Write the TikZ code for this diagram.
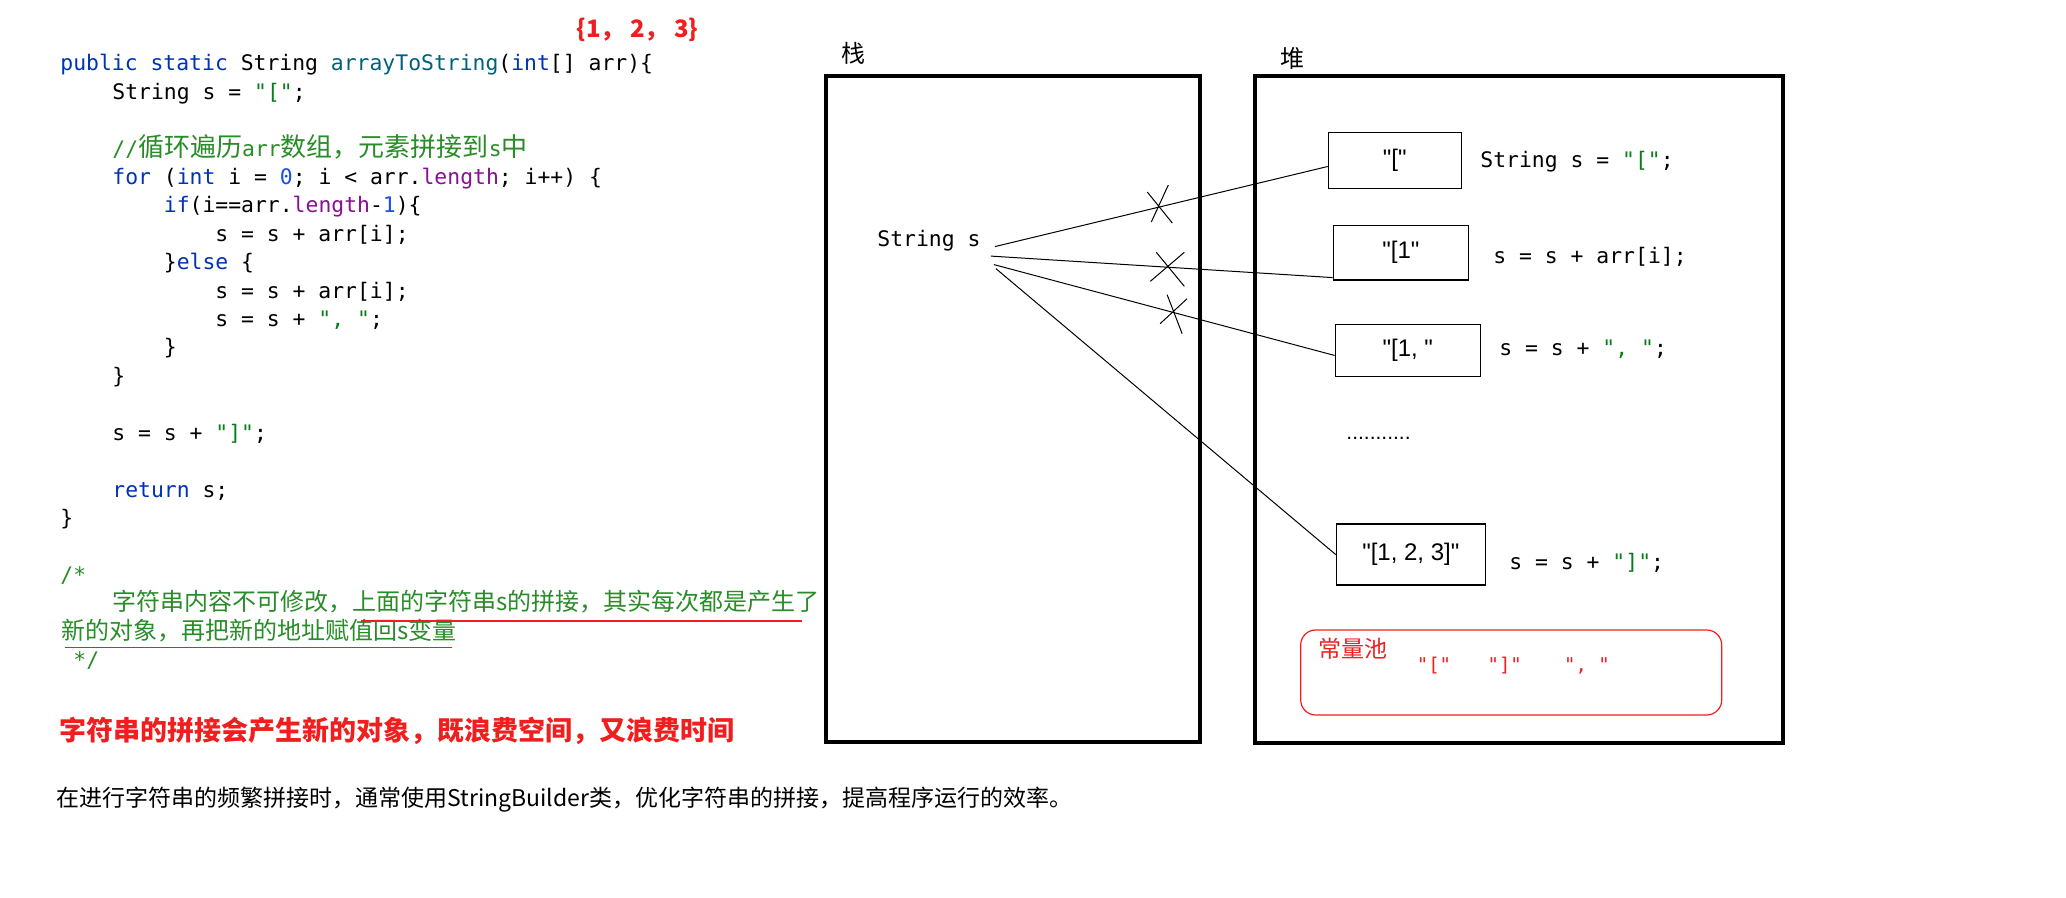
\documentclass[tikz,border=0pt]{standalone}
\usepackage{fontspec}
\usepackage{xcolor}
\usepackage{tikz}
\usetikzlibrary{positioning, calc}

\newfontfamily\cjk{Noto Sans CJK SC}
\newfontfamily\codefont{DejaVu Sans Mono}
\newfontfamily\boxfont{Liberation Sans}

\definecolor{kwblue}{RGB}{0,51,179}
\definecolor{numblue}{RGB}{23,80,235}
\definecolor{fieldpurple}{RGB}{135,16,148}
\definecolor{methodteal}{RGB}{0,98,122}
\definecolor{strgreen}{RGB}{6,125,23}
\definecolor{cmtgreen}{RGB}{40,140,40}
\definecolor{notered}{RGB}{240,30,30}

\newcommand{\kw}[1]{\textcolor{kwblue}{#1}}
\newcommand{\jstr}[1]{\textcolor{strgreen}{#1}}
\newcommand{\jnum}[1]{\textcolor{numblue}{#1}}
\newcommand{\fld}[1]{\textcolor{fieldpurple}{#1}}
\newcommand{\zhc}[1]{{\cjk\fontsize{13}{13}\selectfont #1}}

\begin{document}
\begin{tikzpicture}[
    x=0.5pt, y=-0.5pt,
    code/.style={anchor=base west, inner sep=0pt, font=\codefont\fontsize{10.7}{12}\selectfont},
    note/.style={anchor=base west, inner sep=0pt, font=\cjk\fontsize{12}{14}\selectfont},
    frame/.style={draw, line width=2pt, outer sep=0pt, inner sep=0pt},
    heapbox/.style={draw, line width=0.6pt, inner sep=0pt, font=\boxfont\fontsize{12}{14}\selectfont},
    pool/.style={draw=notered, line width=0.6pt, rounded corners=7.5pt, inner sep=0pt},
    refline/.style={line width=0.5pt},
    xmark/.style={line width=0.5pt},
    underline/.style={notered, line width=0.6pt}
]

\useasboundingbox (0,0) rectangle (2066,898);

% Code listing
\node[anchor=base west, inner sep=0pt, notered, font=\cjk\bfseries\fontsize{12}{14}\selectfont] (arrval) at (576,38) {\{1， 2， 3\}};
\node[code] (c0) at (60,71) {\kw{public} \kw{static} String \textcolor{methodteal}{arrayToString}(\kw{int}[] arr)\{};
\node[code] (c1) at (112,99.4) {String s = \jstr{"["};};
\node[code, cmtgreen] (c3) at (112,156.2) {//\zhc{循环遍历}arr\zhc{数组，元素拼接到}s\zhc{中}};
\node[code] (c4) at (112,184.6) {\kw{for} (\kw{int} i = \jnum{0}; i < arr.\fld{length}; i++) \{};
\node[code] (c5) at (163.5,213) {\kw{if}(i==arr.\fld{length}-\jnum{1})\{};
\node[code] (c6) at (215,241.4) {s = s + arr[i];};
\node[code] (c7) at (163.5,269.8) {\}\kw{else} \{};
\node[code] (c8) at (215,298.2) {s = s + arr[i];};
\node[code] (c9) at (215,326.6) {s = s + \jstr{", "};};
\node[code] (c10) at (163.5,355) {\}};
\node[code] (c11) at (112,383.4) {\}};
\node[code] (c13) at (112,440.2) {s = s + \jstr{"]"};};
\node[code] (c15) at (112,497) {\kw{return} s;};
\node[code] (c16) at (60,525.4) {\}};

% Comment block
\node[code, cmtgreen] (k0) at (60,582.2) {/*};
\node[note, cmtgreen] (k1) at (112,610.6) {字符串内容不可修改，上面的字符串s的拼接，其实每次都是产生了};
\node[note, cmtgreen] (k2) at (61,639) {新的对象，再把新的地址赋值回s变量};
\node[code, cmtgreen] (k3) at (73,667.4) {*/};
\draw[underline] (361,621) -- (802,621);
\draw[underline] (65,647.5) -- (452,647.5);

% Conclusions
\node[anchor=base west, inner sep=0pt, notered, font=\cjk\bfseries\fontsize{13.5}{16}\selectfont] (headline) at (59,740) {字符串的拼接会产生新的对象，既浪费空间，又浪费时间};
\node[anchor=base west, inner sep=0pt, font=\cjk\fontsize{11.5}{14}\selectfont] (advice) at (56,806) {在进行字符串的频繁拼接时，通常使用StringBuilder类，优化字符串的拼接，提高程序运行的效率。};

% Stack
\node[frame, minimum width=187pt, minimum height=333pt] (stack) at (1013,409) {};
\node[inner sep=0pt, font=\cjk\fontsize{12}{14}\selectfont] (stacklbl) at (853,53) {栈};
\node[code] (ref) at (877,246.6) {String s};

% Heap
\node[frame, minimum width=264pt, minimum height=333.5pt] (heap) at (1519,409.5) {};
\node[inner sep=0pt, font=\cjk\fontsize{12}{14}\selectfont] (heaplbl) at (1292,58.5) {堆};

\node[heapbox, minimum width=66.5pt, minimum height=27.75pt] (b1) at (1394.8,160.5) {"["};
\node[heapbox, minimum width=67.6pt, minimum height=27.25pt] (b2) at (1400.9,252.75) {"[1"};
\node[heapbox, minimum width=72.6pt, minimum height=26pt] (b3) at (1407.8,350.45) {"[1, "};
\node[heapbox, minimum width=74.5pt, minimum height=30.5pt] (b4) at (1410.8,554.55) {"[1, 2, 3]"};
\node[anchor=base west, inner sep=0pt, font=\boxfont\fontsize{10.5}{12}\selectfont] (dots) at (1346,439) {...........};

\node[code] (h1) at (1480,168) {String s = \jstr{"["};};
\node[code] (h2) at (1493,264) {s = s + arr[i];};
\node[code] (h3) at (1499,356) {s = s + \jstr{", "};};
\node[code] (h4) at (1509,569) {s = s + \jstr{"]"};};

% Constant pool
\node[pool, minimum width=210.5pt, minimum height=42.5pt] (pool) at (1511.2,672.5) {};
\node[anchor=base west, inner sep=0pt, notered, font=\cjk\fontsize{11.5}{14}\selectfont] (poollbl) at (1318,657.5) {常量池};
\node[anchor=base, inner sep=0pt, notered, font=\codefont\fontsize{9.5}{12}\selectfont] (lit1) at (1434,671) {"["};
\node[anchor=base, inner sep=0pt, notered, font=\codefont\fontsize{9.5}{12}\selectfont] (lit2) at (1504.7,671) {"]"};
\node[anchor=base, inner sep=0pt, notered, font=\codefont\fontsize{9.5}{12}\selectfont] (lit3) at (1587,671) {", "};

% References from s
\coordinate (o1) at ($(ref.base east)+(14,0)$);
\coordinate (o2) at ($(ref.base east)+(10,9.5)$);
\coordinate (o3) at ($(ref.base east)+(13,18)$);
\coordinate (o4) at ($(ref.base east)+(15,22)$);

\draw[refline] (o1) -- coordinate[pos=0.494] (x1) ($(b1.west)+(0,6)$);
\draw[refline] (o2) -- coordinate[pos=0.522] (x2) ($(b2.south west)+(0,-3)$);
\draw[refline] (o3) -- coordinate[pos=0.529] (x3) ($(b3.west)+(0,5)$);
\draw[refline] (o4) -- (b4.west);

% crossed-out references
\draw[xmark] (x1) ++(-12,-15) -- ++(25,31) (x1) ++(9,-22) -- ++(-17,37);
\draw[xmark] (x2) ++(-13,-15) -- ++(28,34) (x2) ++(15,-15) -- ++(-34,29);
\draw[xmark] (x3) ++(-7,-18) -- ++(15,39) (x3) ++(13,-14) -- ++(-27,25);

\end{tikzpicture}
\end{document}
